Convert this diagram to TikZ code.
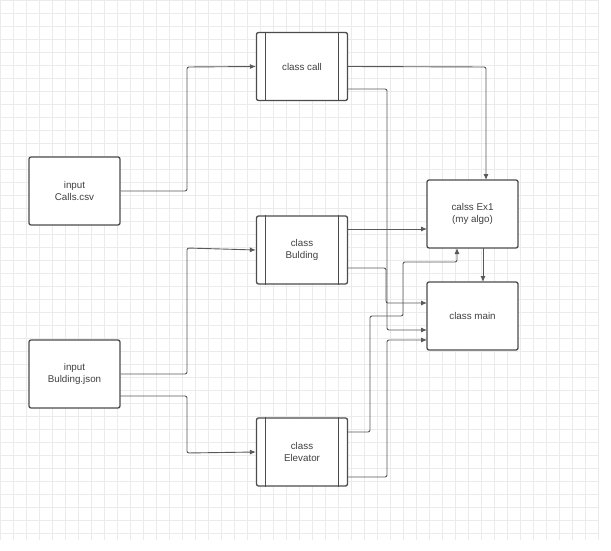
\documentclass[tikz,border=0pt]{standalone}
\usepackage{fontspec}
\setmainfont{Liberation Sans}
\usetikzlibrary{arrows.meta}
\begin{document}
\begin{tikzpicture}[x=1pt,y=-1pt,
  box/.style={draw=black!70,line width=1.3pt,rounded corners=2pt,fill=white,minimum width=91pt,minimum height=68pt,align=center,font=\fontsize{9.8}{12}\selectfont,text=black!75},
  con/.style={draw=black!65,line width=0.9pt,rounded corners=2pt,-{Latex[length=6pt,width=5pt]}}]
\useasboundingbox (0,0) rectangle (611,551);
\fill[white] (0,0) rectangle (611,551);
\draw[black!8,line width=0.5pt] (0,0) grid[step=13pt] (598,540);
\node[box] (call) at (302,66.5) {class call};
\node[box] (bld) at (302,250) {class\\Bulding};
\node[box] (elev) at (302,452) {class\\Elevator};
\node[box] (csv) at (74.5,191) {input\\Calls.csv};
\node[box] (json) at (74.5,374) {input\\Bulding.json};
\node[box] (ex) at (472.5,214) {calss Ex1\\(my algo)};
\node[box] (main) at (472.5,316) {class main};
\foreach \n in {call,bld,elev}{
  \draw[black!70,line width=1.1pt] ([xshift=10pt]\n.north west) -- ([xshift=10pt]\n.south west);
  \draw[black!70,line width=1.1pt] ([xshift=-10pt]\n.north east) -- ([xshift=-10pt]\n.south east);
}
\draw[con] (csv.east) -- (187,191) -- (187,67) -- (call.west);
\draw[con] (json.east) -- (187,374) -- (187,248) -- (bld.west);
\draw[con] (120,396) -- (187,396) -- (187,453) -- (elev.west);
\draw[con] (call.east) -- (486,67) -- (486,180);
\draw[con] (348,89) -- (387,89) -- (387,330) -- (427,330);
\draw[con] (348,229) -- (427,229);
\draw[con] (348,268) -- (386,268) -- (386,303) -- (427,303);
\draw[con] (483,248) -- (483,282);
\draw[con] (348,432) -- (370,432) -- (370,316) -- (403,316) -- (403,262) -- (457,262) -- (457,248);
\draw[con] (348,477) -- (387,477) -- (387,340) -- (427,340);
\end{tikzpicture}
\end{document}
